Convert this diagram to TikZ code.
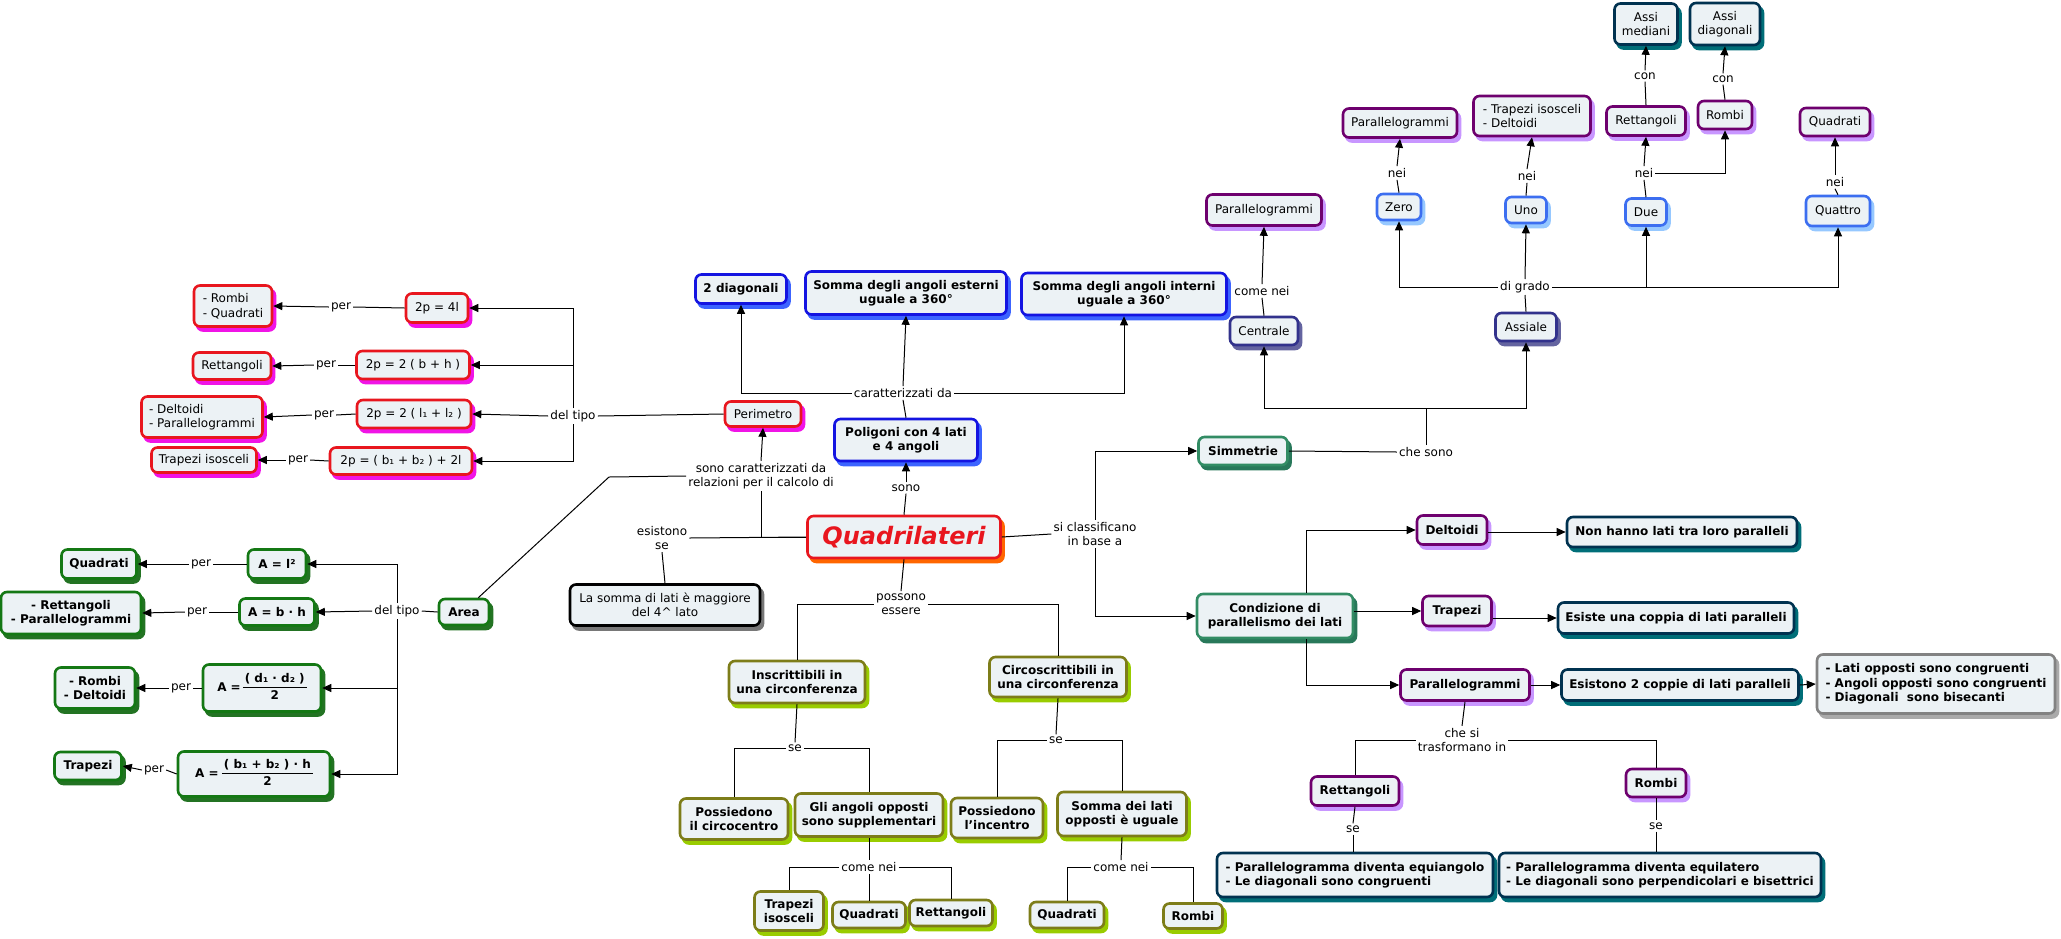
\documentclass[tikz,border=0pt]{standalone}
\usepackage{fontspec}
\setmainfont{DejaVu Sans}[BoldFont={DejaVu Sans Bold},ItalicFont={DejaVu Sans Oblique},BoldItalicFont={DejaVu Sans Bold Oblique}]
\usetikzlibrary{shadows,arrows.meta}
\newcommand\mapfont{\fontsize{12pt}{14.5pt}\selectfont}
\definecolor{bfill}{RGB}{236,242,245}
\definecolor{cred}{RGB}{232,22,30}
\definecolor{cmag}{RGB}{240,20,230}
\definecolor{corange}{RGB}{255,102,0}
\definecolor{cblue}{RGB}{20,20,225}
\definecolor{cblues}{RGB}{60,100,255}
\definecolor{cgreen}{RGB}{20,120,20}
\definecolor{cgreens}{RGB}{35,115,35}
\definecolor{colive}{RGB}{125,125,25}
\definecolor{colives}{RGB}{153,204,0}
\definecolor{cteal}{RGB}{50,140,100}
\definecolor{cteals}{RGB}{40,120,90}
\definecolor{cnavy}{RGB}{50,50,140}
\definecolor{cnavys}{RGB}{100,100,160}
\definecolor{cpurp}{RGB}{110,0,110}
\definecolor{cpurps}{RGB}{200,150,255}
\definecolor{clblue}{RGB}{60,110,240}
\definecolor{clblues}{RGB}{150,200,255}
\definecolor{cdnavy}{RGB}{0,50,80}
\definecolor{cdnavys}{RGB}{0,110,120}
\definecolor{cgray}{RGB}{130,130,130}
\definecolor{cgrays}{RGB}{170,170,170}
\definecolor{cblacks}{RGB}{120,120,120}
\tikzset{
  base/.style={draw, line width=2.6pt, rounded corners=6pt, fill=bfill, align=center, inner sep=1pt, font=\mapfont},
  bx/.style n args={2}{base, draw=#1, drop shadow={fill=#2, draw=#2, line width=2.6pt, opacity=1, shadow xshift=3pt, shadow yshift=-4pt}},
  sz/.style 2 args={minimum width=#1 pt, minimum height=#2 pt},
  bfnt/.style={font=\mapfont\bfseries},
  redb/.style={bx={cred}{cmag}},
  blueb/.style={bx={cblue}{cblues}, bfnt},
  greenb/.style={bx={cgreen}{cgreens}, bfnt},
  oliveb/.style={bx={colive}{colives}, bfnt},
  tealb/.style={bx={cteal}{cteals}, bfnt},
  navyb/.style={bx={cnavy}{cnavys}},
  purpb/.style={bx={cpurp}{cpurps}},
  lblueb/.style={bx={clblue}{clblues}},
  dnavyb/.style={bx={cdnavy}{cdnavys}},
  grayb/.style={bx={cgray}{cgrays}, bfnt},
  blackb/.style={bx={black}{cblacks}},
  lbl/.style={font=\mapfont, inner sep=2pt, align=center},
  link/.style={line width=1pt, black},
  arr/.style={link, -{Triangle[length=9pt,width=8pt]}},
}
\begin{document}
\begin{tikzpicture}[x=1pt,y=-1pt]
\useasboundingbox[fill=white] (0,0) rectangle (2061,938);

% ---------- central ----------
\node[bx={cred}{corange}, sz={193}{42}, font=\fontsize{24pt}{28pt}\selectfont\bfseries\itshape, text=cred] (quad) at (904,537) {Quadrilateri};

% ---------- perimetro group ----------
\node[redb, sz={76}{25}] (perim) at (763,414) {Perimetro};
\node[redb, sz={78}{41}, align=left] (rq) at (233,306) {- Rombi\\- Quadrati};
\node[redb, sz={62}{29}] (p1) at (437,308) {2p = 4l};
\node[redb, sz={78}{27}] (rett1) at (232,366) {Rettangoli};
\node[redb, sz={113}{28}] (p2) at (413,365) {2p = 2 ( b + h )};
\node[redb, sz={121}{41}, align=left] (delpar) at (202,417) {- Deltoidi\\- Parallelogrammi};
\node[redb, sz={114}{28}] (p3) at (414,414) {2p = 2 ( l₁ + l₂ )};
\node[redb, sz={105}{25}] (trapiso) at (204,460) {Trapezi isosceli};
\node[redb, sz={142}{27}] (p4) at (401,461) {2p = ( b₁ + b₂ ) + 2l};

% ---------- blue group ----------
\node[blueb, sz={91}{29}] (diag) at (741,289) {2 diagonali};
\node[blueb, sz={201}{43}] (est) at (906,293) {Somma degli angoli esterni\\uguale a 360°};
\node[blueb, sz={205}{42}] (int) at (1124,294) {Somma degli angoli interni\\uguale a 360°};
\node[blueb, sz={143}{42}] (pol) at (906,440) {Poligoni con 4 lati\\e 4 angoli};

% ---------- area group ----------
\node[greenb, sz={50}{26}] (area) at (464,612) {Area};
\node[greenb, sz={75}{29}] (quad1) at (99,564) {Quadrati};
\node[greenb, sz={58}{29}] (al2) at (277,564) {A = l²};
\node[greenb, sz={140}{42}] (rettpar) at (71,613) {- Rettangoli\\- Parallelogrammi};
\node[greenb, sz={75}{27}] (abh) at (277,612) {A = b · h};
\node[greenb, sz={80}{41}] (rombdel) at (95,688) {- Rombi\\- Deltoidi};
\node[greenb, sz={118}{47}] (ad) at (262,688) {A =\,\begin{tabular}{@{\,}c@{\,}}( d₁ · d₂ )\\[1pt]\hline\rule{0pt}{12pt}2\end{tabular}};
\node[greenb, sz={67}{28}] (trap1) at (88,766) {Trapezi};
\node[greenb, sz={152}{45}] (atr) at (254,774) {A =\;\begin{tabular}{@{\,}c@{\,}}( b₁ + b₂ ) · h\\[1pt]\hline\rule{0pt}{12pt}2\end{tabular}};

% ---------- black ----------
\node[blackb, sz={190}{41}] (somma) at (665,605) {La somma di lati è maggiore\\del 4\textasciicircum{} lato};

% ---------- olive group ----------
\node[oliveb, sz={136}{42}] (inscr) at (797,682) {Inscrittibili in\\una circonferenza};
\node[oliveb, sz={137}{40}] (circ) at (1058,677) {Circoscrittibili in\\una circonferenza};
\node[oliveb, sz={108}{41}] (circo) at (734,819) {Possiedono\\il circocentro};
\node[oliveb, sz={148}{43}] (angopp) at (869,815) {Gli angoli opposti\\sono supplementari};
\node[oliveb, sz={92}{40}] (incentro) at (997,818) {Possiedono\\l'incentro};
\node[oliveb, sz={129}{44}] (sommalati) at (1122,814) {Somma dei lati\\opposti è uguale};
\node[oliveb, sz={69}{39}] (trapiso2) at (789,911) {Trapezi\\isosceli};
\node[oliveb, sz={73}{26}] (quad2) at (869,915) {Quadrati};
\node[oliveb, sz={83}{26}] (rett2) at (951,913) {Rettangoli};
\node[oliveb, sz={74}{26}] (quad3) at (1067,915) {Quadrati};
\node[oliveb, sz={59}{25}] (rombi2) at (1193,916) {Rombi};

% ---------- right side ----------
\node[tealb, sz={89}{28}] (simm) at (1243,451) {Simmetrie};
\node[tealb, sz={156}{44}] (cond) at (1275,616) {Condizione di\\parallelismo dei lati};
\node[navyb, sz={68}{28}] (centrale) at (1264,331) {Centrale};
\node[navyb, sz={61}{28}] (assiale) at (1526,327) {Assiale};
\node[purpb, sz={115}{31}] (par1) at (1264,210) {Parallelogrammi};
\node[purpb, sz={114}{29}] (par2) at (1400,123) {Parallelogrammi};
\node[purpb, sz={117}{40}, align=left] (trdel) at (1532,116) {- Trapezi isosceli\\- Deltoidi};
\node[purpb, sz={79}{29}] (rett3) at (1646,121) {Rettangoli};
\node[purpb, sz={54}{28}] (rombi3) at (1725,115) {Rombi};
\node[purpb, sz={70}{28}] (quad4) at (1835,122) {Quadrati};
\node[lblueb, sz={44}{26}] (zero) at (1399,207) {Zero};
\node[lblueb, sz={41}{26}] (uno) at (1526,210) {Uno};
\node[lblueb, sz={41}{27}] (due) at (1646,212) {Due};
\node[lblueb, sz={64}{30}] (quattro) at (1838,211) {Quattro};
\node[dnavyb, sz={63}{41}] (assim) at (1646,24) {Assi\\mediani};
\node[dnavyb, sz={70}{42}] (assid) at (1725,24) {Assi\\diagonali};

\node[purpb, bfnt, sz={70}{29}] (delt) at (1452,530) {Deltoidi};
\node[purpb, bfnt, sz={69}{30}] (trap2) at (1457,611) {Trapezi};
\node[purpb, bfnt, sz={129}{31}] (par3) at (1465,685) {Parallelogrammi};
\node[purpb, bfnt, sz={88}{29}] (rett4) at (1355,791) {Rettangoli};
\node[purpb, bfnt, sz={60}{28}] (rombi4) at (1656,783) {Rombi};
\node[dnavyb, bfnt, sz={230}{30}] (nonhanno) at (1682,532) {Non hanno lati tra loro paralleli};
\node[dnavyb, bfnt, sz={236}{31}] (esiste) at (1676,618) {Esiste una coppia di lati paralleli};
\node[dnavyb, bfnt, sz={237}{31}] (esistono) at (1680,685) {Esistono 2 coppie di lati paralleli};
\node[grayb, sz={238}{59}, align=left] (gray) at (1936,684) {- Lati opposti sono congruenti\\- Angoli opposti sono congruenti\\- Diagonali\ \ sono bisecanti};
\node[dnavyb, bfnt, sz={276}{44}, align=left] (equiang) at (1355,875) {- Parallelogramma diventa equiangolo\\- Le diagonali sono congruenti};
\node[dnavyb, bfnt, sz={322}{44}, align=left] (equilat) at (1660,875) {- Parallelogramma diventa equilatero\\- Le diagonali sono perpendicolari e bisettrici};

% ---------- labels ----------
\node[lbl] (dt1) at (573,416) {del tipo};
\node[lbl] (per1) at (341,307) {per};
\node[lbl] (per2) at (326,365) {per};
\node[lbl] (per3) at (324,415) {per};
\node[lbl] (per4) at (298,460) {per};
\node[lbl] (sc) at (761,476) {sono caratterizzati da\\relazioni per il calcolo di};
\node[lbl] (es) at (662,538) {esistono\\se};
\node[lbl] (sono) at (906,488) {sono};
\node[lbl] (cd) at (903,393) {caratterizzati da};
\node[lbl] (pe) at (901,604) {possono\\essere};
\node[lbl] (se1) at (795,748) {se};
\node[lbl] (se2) at (1056,740) {se};
\node[lbl] (cn1) at (869,867) {come nei};
\node[lbl] (cn2) at (1121,867) {come nei};
\node[lbl] (dt2) at (397,611) {del tipo};
\node[lbl] (pa1) at (201,564) {per};
\node[lbl] (pa2) at (197,612) {per};
\node[lbl] (pa3) at (181,688) {per};
\node[lbl] (pa4) at (154,770) {per};
\node[lbl] (scl) at (1095,534) {si classificano\\in base a};
\node[lbl] (cs) at (1426,452) {che sono};
\coordinate (csj) at (1426,408);
\node[lbl] (cn3) at (1262,291) {come nei};
\node[lbl] (dg) at (1525,287) {di grado};
\node[lbl] (n1) at (1397,173) {nei};
\node[lbl] (n2) at (1527,176) {nei};
\node[lbl] (n3) at (1644,173) {nei};
\node[lbl] (n4) at (1835,182) {nei};
\node[lbl] (c1) at (1645,76) {con};
\node[lbl] (c2) at (1723,79) {con};
\node[lbl] (cst) at (1462,740) {che si\\trasformano in};
\node[lbl] (se3) at (1353,829) {se};
\node[lbl] (se4) at (1656,826) {se};

% ---------- connectors: perimetro ----------
\draw[link] (perim.west) -- (dt1.east);
\draw[arr] (dt1.north) |- (p1.east);
\draw[arr] (dt1.north) |- (p2.east);
\draw[arr] (dt1.west) -- (p3.east);
\draw[arr] (dt1.south) |- (p4.east);
\draw[link] (p1.west) -- (per1.east);
\draw[arr] (per1.west) -- (rq.east);
\draw[link] (p2.west) -- (per2.east);
\draw[arr] (per2.west) -- (rett1.east);
\draw[link] (p3.west) -- (per3.east);
\draw[arr] (per3.west) -- (delpar.east);
\draw[link] (p4.west) -- (per4.east);
\draw[arr] (per4.west) -- (trapiso.east);

% ---------- connectors: centre ----------
\draw[arr] (sc.north) -- (perim.south);
\draw[link] (quad.west) -| (sc.south);
\draw[link] (sc.west) -- (609,477) -- (area.45);
\draw[link] (es.east) -- (quad.west);
\draw[link] (es.south) -- (somma.north);
\draw[link] (quad.north) -- (sono.south);
\draw[arr] (sono.north) -- (pol.south);
\draw[link] (pol.north) -- (cd.south);
\draw[arr] (cd.west) -| (diag.south);
\draw[arr] (cd.north) -- (est.south);
\draw[arr] (cd.east) -| (int.south);

% ---------- connectors: possono essere ----------
\draw[link] (quad.south) -- (pe.north);
\draw[link] (pe.west) -| (inscr.north);
\draw[link] (pe.east) -| (circ.north);
\draw[link] (inscr.south) -- (se1.north);
\draw[link] (se1.west) -| (circo.north);
\draw[link] (se1.east) -| (angopp.north);
\draw[link] (circ.south) -- (se2.north);
\draw[link] (se2.west) -| (incentro.north);
\draw[link] (se2.east) -| (sommalati.north);
\draw[link] (angopp.south) -- (cn1.north);
\draw[link] (cn1.west) -| (trapiso2.north);
\draw[link] (cn1.south) -- (quad2.north);
\draw[link] (cn1.east) -| (rett2.north);
\draw[link] (sommalati.south) -- (cn2.north);
\draw[link] (cn2.west) -| (quad3.north);
\draw[link] (cn2.east) -| (rombi2.north);

% ---------- connectors: area ----------
\draw[link] (area.west) -- (dt2.east);
\draw[arr] (dt2.north) |- (al2.east);
\draw[arr] (dt2.west) -- (abh.east);
\draw[arr] (dt2.south) |- (ad.east);
\draw[arr] (dt2.south) |- (atr.east);
\draw[link] (al2.west) -- (pa1.east);
\draw[arr] (pa1.west) -- (quad1.east);
\draw[link] (abh.west) -- (pa2.east);
\draw[arr] (pa2.west) -- (rettpar.east);
\draw[link] (ad.west) -- (pa3.east);
\draw[arr] (pa3.west) -- (rombdel.east);
\draw[link] (atr.west) -- (pa4.east);
\draw[arr] (pa4.west) -- (trap1.east);

% ---------- connectors: right ----------
\draw[link] (quad.east) -- (scl.west);
\draw[arr] (scl.north) |- (simm.west);
\draw[arr] (scl.south) |- (cond.west);
\draw[link] (simm.east) -- (cs.west);
\draw[link] (cs.north) -- (csj);
\draw[arr] (csj) -| (centrale.south);
\draw[arr] (csj) -| (assiale.south);
\draw[link] (centrale.north) -- (cn3.south);
\draw[arr] (cn3.north) -- (par1.south);
\draw[link] (assiale.north) -- (dg.south);
\draw[arr] (dg.west) -| (zero.south);
\draw[arr] (dg.north) -- (uno.south);
\draw[arr] (dg.east) -| (due.south);
\draw[arr] (dg.east) -| (quattro.south);
\draw[link] (zero.north) -- (n1.south);
\draw[arr] (n1.north) -- (par2.south);
\draw[link] (uno.north) -- (n2.south);
\draw[arr] (n2.north) -- (trdel.south);
\draw[link] (due.north) -- (n3.south);
\draw[arr] (n3.north) -- (rett3.south);
\draw[arr] (n3.east) -| (rombi3.south);
\draw[link] (quattro.north) -- (n4.south);
\draw[arr] (n4.north) -- (quad4.south);
\draw[link] (rett3.north) -- (c1.south);
\draw[arr] (c1.north) -- (assim.south);
\draw[link] (rombi3.north) -- (c2.south);
\draw[arr] (c2.north) -- (assid.south);

\draw[arr] ([xshift=31pt]cond.north) |- (delt.west);
\draw[arr] (cond.east |- trap2.west) -- (trap2.west);
\draw[arr] ([xshift=31pt]cond.south) |- (par3.west);
\draw[arr] (nonhanno.west -| delt.east) -- (nonhanno.west);
\draw[arr] (esiste.west -| trap2.east) -- (esiste.west);
\draw[arr] (par3.east) -- (esistono.west);
\draw[arr] (esistono.east) -- (gray.west);
\draw[link] (par3.south) -- (cst.north);
\draw[link] (cst.west) -| (rett4.north);
\draw[link] (cst.east) -| (rombi4.north);
\draw[link] (rett4.south) -- (se3.north);
\draw[link] (se3.south) -- (equiang.north -| se3.south);
\draw[link] (rombi4.south) -- (se4.north);
\draw[link] (se4.south) -- (equilat.north -| se4.south);
\end{tikzpicture}
\end{document}
